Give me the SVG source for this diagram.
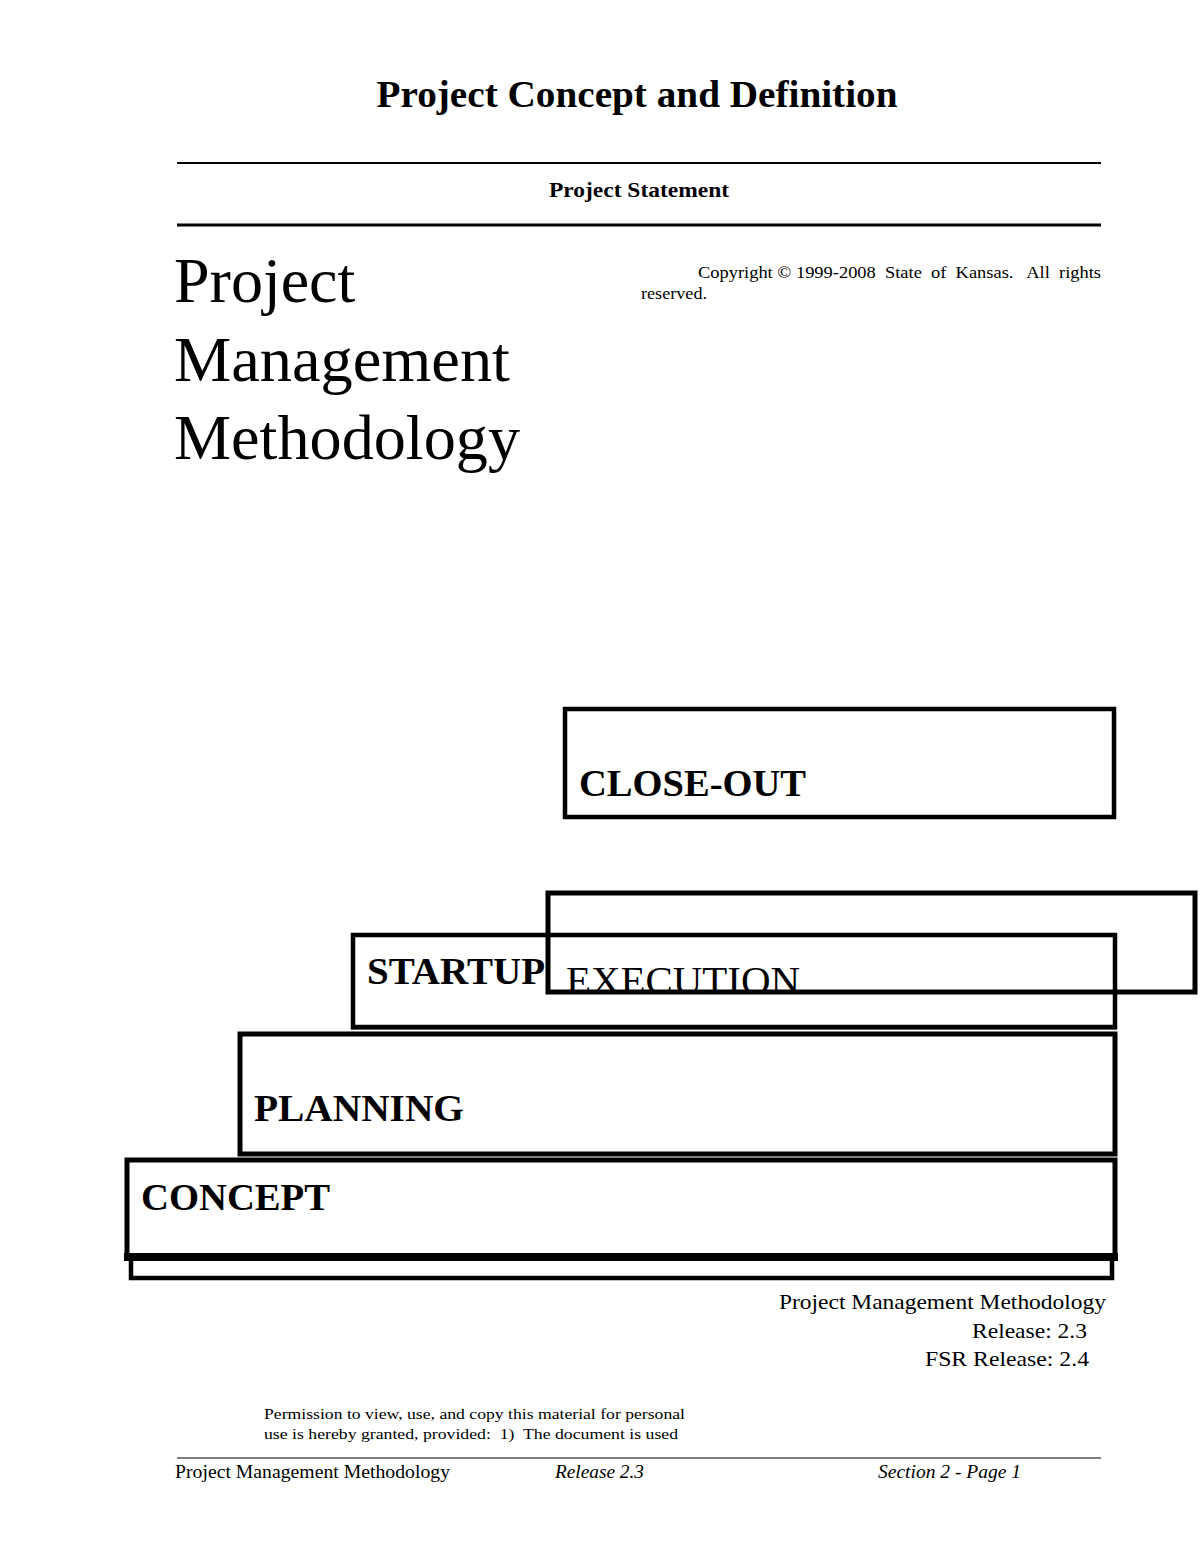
<svg xmlns="http://www.w3.org/2000/svg" width="1200" height="1553" viewBox="0 0 1200 1553">
<style>
.serif{font-family:"Liberation Serif","Times New Roman",serif;fill:#000}
.b{font-weight:bold}
.box{fill:none;stroke:#000}
.lbl{font-family:"Liberation Serif","Times New Roman",serif;font-weight:bold;font-size:38px;fill:#000}
</style>
<rect width="1200" height="1553" fill="#fff"/>
<g id="header">
<text class="serif b" x="637" y="107" font-size="38" text-anchor="middle" textLength="521" lengthAdjust="spacingAndGlyphs">Project Concept and Definition</text>
<line x1="177" y1="163" x2="1101" y2="163" stroke="#000" stroke-width="2"/>
<text class="serif b" x="639" y="197" font-size="21" text-anchor="middle" textLength="180" lengthAdjust="spacingAndGlyphs">Project Statement</text>
<line x1="177" y1="225" x2="1101" y2="225" stroke="#000" stroke-width="3"/>
</g>
<g id="title">
<text class="serif" x="174" y="302" font-size="64">Project</text>
<text class="serif" x="174" y="381" font-size="64" textLength="336" lengthAdjust="spacingAndGlyphs">Management</text>
<text class="serif" x="174" y="459" font-size="64" textLength="346" lengthAdjust="spacingAndGlyphs">Methodology</text>
</g>
<g id="copyright">
<text class="serif" x="698" y="278" font-size="17" textLength="403" lengthAdjust="spacingAndGlyphs" xml:space="preserve">Copyright © 1999-2008  State  of  Kansas.   All  rights</text>
<text class="serif" x="641" y="299" font-size="17" textLength="66" lengthAdjust="spacingAndGlyphs">reserved.</text>
</g>
<g id="closeout">
<rect class="box" x="565" y="709" width="549" height="108" stroke-width="4.5"/>
<text class="lbl" x="579" y="796" textLength="227" lengthAdjust="spacingAndGlyphs">CLOSE-OUT</text>
</g>
<g id="startup">
<rect class="box" x="353" y="935" width="762" height="92" stroke-width="4.5"/>
<line x1="351" y1="1028" x2="1117" y2="1028" stroke="#000" stroke-width="3"/>
<text class="lbl" x="367" y="984" textLength="178" lengthAdjust="spacingAndGlyphs">STARTUP</text>
</g>
<g id="execution">
<text class="serif" x="566" y="994" font-size="40" textLength="234" lengthAdjust="spacingAndGlyphs">EXECUTION</text>
<rect class="box" x="548" y="893" width="647" height="99" stroke-width="5"/>
</g>
<g id="planning">
<rect class="box" x="240" y="1034" width="875" height="120" stroke-width="5"/>
<text class="lbl" x="254" y="1121" textLength="210" lengthAdjust="spacingAndGlyphs">PLANNING</text>
</g>
<g id="concept">
<rect class="box" x="131" y="1258" width="981" height="20" stroke-width="4.5"/>
<rect class="box" x="127" y="1160" width="988" height="97" stroke-width="5"/>
<line x1="124" y1="1257" x2="1118" y2="1257" stroke="#000" stroke-width="8"/>
<text class="lbl" x="141" y="1210" textLength="189" lengthAdjust="spacingAndGlyphs">CONCEPT</text>
</g>
<g id="release">
<text class="serif" x="1106" y="1309" font-size="22" text-anchor="end" textLength="327" lengthAdjust="spacingAndGlyphs">Project Management Methodology</text>
<text class="serif" x="1087" y="1338" font-size="22" text-anchor="end" textLength="115" lengthAdjust="spacingAndGlyphs">Release: 2.3</text>
<text class="serif" x="1089" y="1366" font-size="22" text-anchor="end" textLength="164" lengthAdjust="spacingAndGlyphs">FSR Release: 2.4</text>
</g>
<g id="permission">
<text class="serif" x="264" y="1419" font-size="15.5" textLength="421" lengthAdjust="spacingAndGlyphs">Permission to view, use, and copy this material for personal</text>
<text class="serif" x="264" y="1439" font-size="15.5" textLength="414" lengthAdjust="spacingAndGlyphs" xml:space="preserve">use is hereby granted, provided:  1)  The document is used</text>
</g>
<g id="footer">
<line x1="177" y1="1458" x2="1101" y2="1458" stroke="#000" stroke-width="1.2"/>
<text class="serif" x="175" y="1478" font-size="19" textLength="275" lengthAdjust="spacingAndGlyphs">Project Management Methodology</text>
<text class="serif" x="555" y="1478" font-size="19" font-style="italic" textLength="89" lengthAdjust="spacingAndGlyphs">Release 2.3</text>
<text class="serif" x="878" y="1478" font-size="19" font-style="italic" textLength="143" lengthAdjust="spacingAndGlyphs">Section 2 - Page 1</text>
</g>
</svg>
